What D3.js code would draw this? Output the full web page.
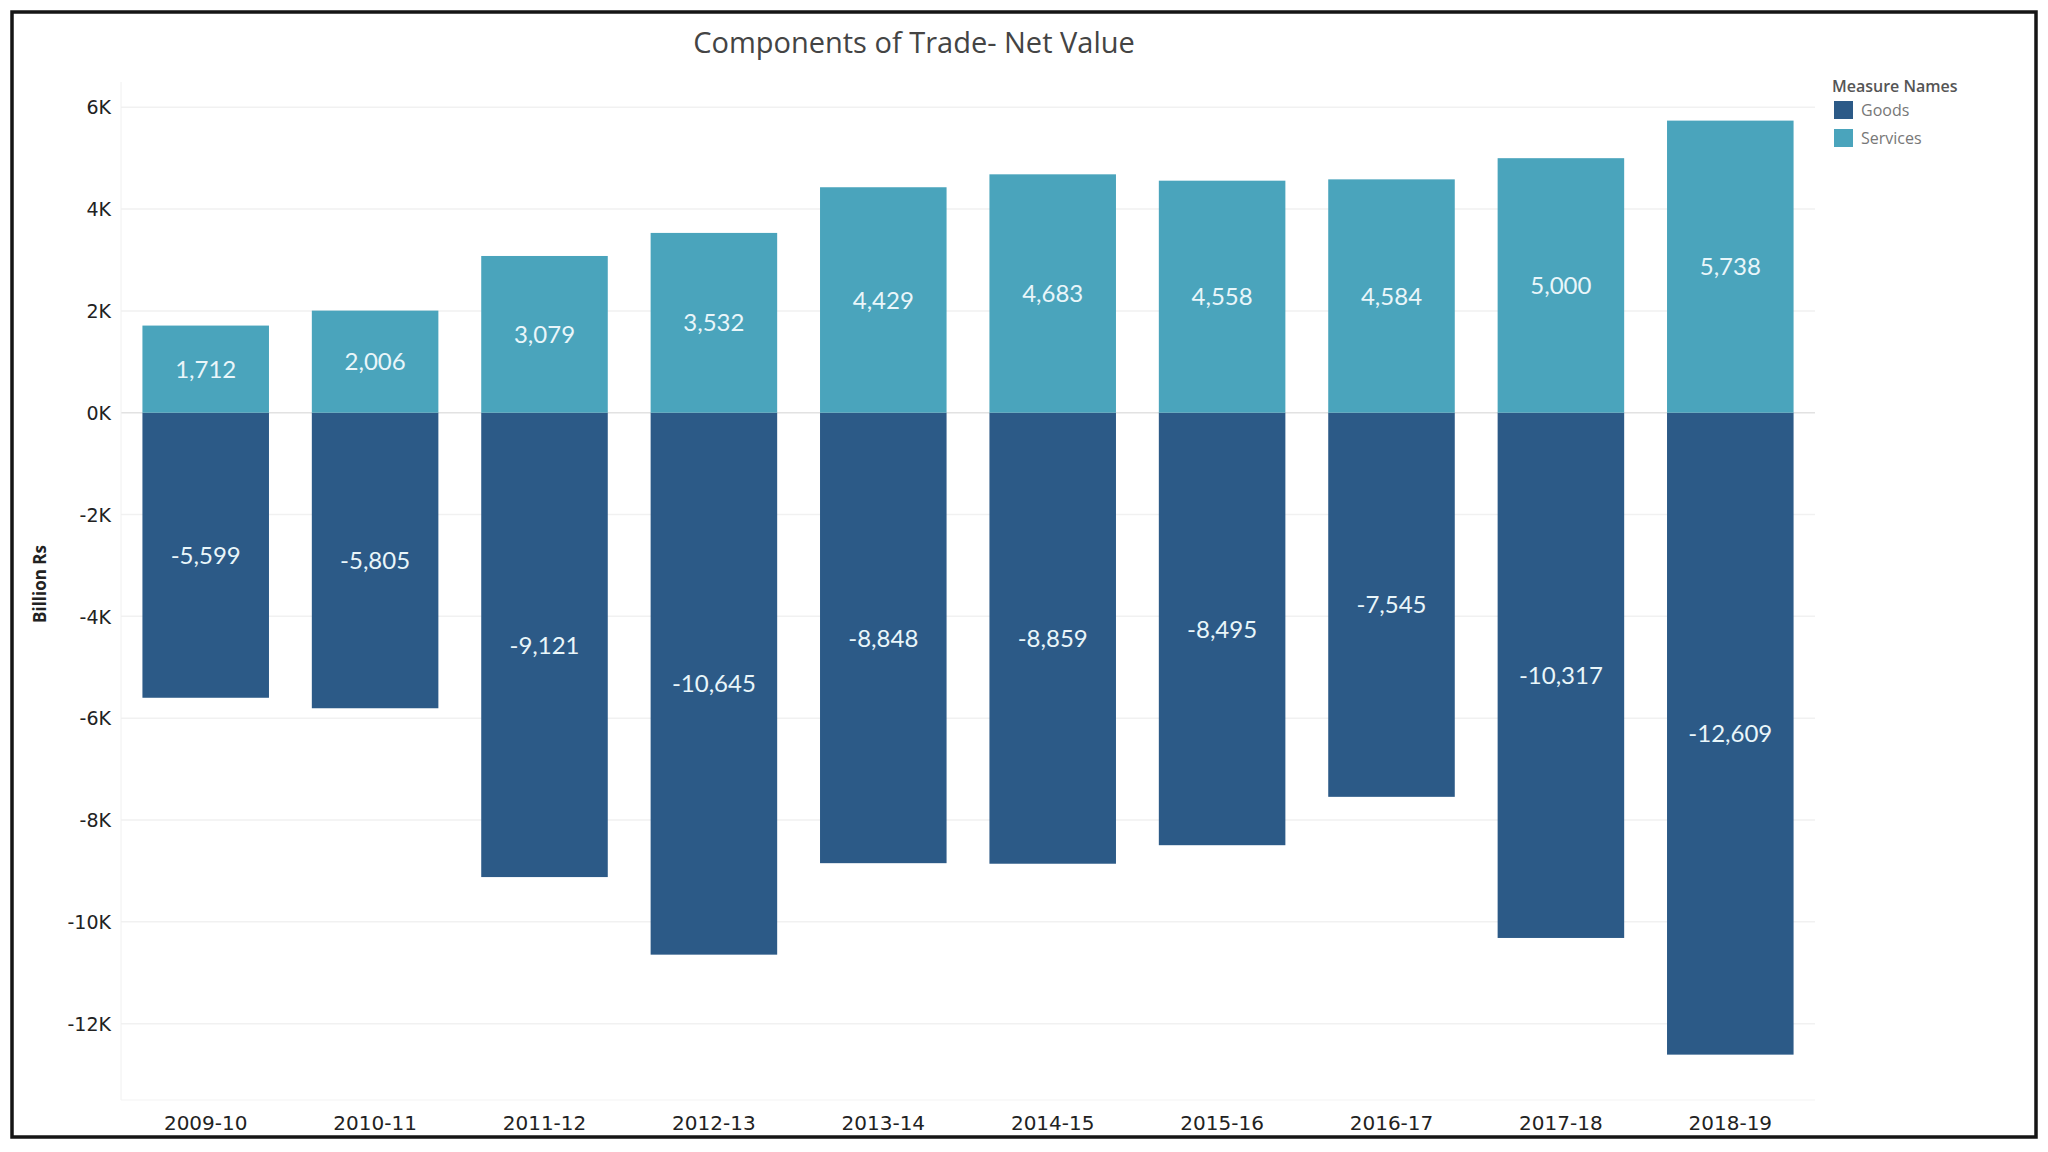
<!DOCTYPE html>
<html>
<head>
<meta charset="utf-8">
<script src="https://cdn.jsdelivr.net/npm/d3@7"></script>
<style>
  html, body { margin: 0; padding: 0; background: #fff; }
  svg { display: block; }
</style>
</head>
<body>
<svg id="chart"></svg>
<script>
// Components of Trade - Net Value (Billion Rs)
const years = ['2009-10', '2010-11', '2011-12', '2012-13', '2013-14', '2014-15', '2015-16', '2016-17', '2017-18', '2018-19'];
const goods = [-5599, -5805, -9121, -10645, -8848, -8859, -8495, -7545, -10317, -12609];
const services = [1712, 2006, 3079, 3532, 4429, 4683, 4558, 4584, 5000, 5738];
const yTicks = [-12000, -10000, -8000, -6000, -4000, -2000, 0, 2000, 4000, 6000];
const measures = ['Goods', 'Services'];

const COLORS = { Goods: '#2c5a87', Services: '#4aa4bc' };

const width = 2048, height = 1152;
const svg = d3.select('#chart').attr('width', width).attr('height', height);

// frame
svg.append('rect').attr('x', 12).attr('y', 12).attr('width', 2024).attr('height', 1125)
  .attr('fill', '#fff').attr('stroke', '#151515').attr('stroke-width', 3.5);

const plot = { left: 121, right: 1815, top: 92, bottom: 1100 };

const x = d3.scaleBand().domain(years).range([plot.left, plot.right])
  .paddingInner(0.253).paddingOuter(0.1265);
const y = d3.scaleLinear().domain([-13500, 6300]).range([plot.bottom, plot.top]);

// gridlines
const g = svg.append('g');
g.selectAll('line.grid').data(yTicks).join('line')
  .attr('x1', plot.left).attr('x2', plot.right)
  .attr('y1', d => y(d)).attr('y2', d => y(d))
  .attr('stroke', d => d === 0 ? '#e2e2e2' : '#f1f1f1').attr('stroke-width', 1.5);
g.append('line').attr('x1', plot.left).attr('x2', plot.left)
  .attr('y1', plot.top - 10).attr('y2', plot.bottom).attr('stroke', '#f0f0f0');
g.append('line').attr('x1', plot.left).attr('x2', plot.right)
  .attr('y1', plot.bottom).attr('y2', plot.bottom).attr('stroke', '#f3f3f3');

// bars
const rows = years.map((yr, i) => ({ yr, Goods: goods[i], Services: services[i] }));
measures.forEach(m => {
  g.selectAll(`rect.${m}`).data(rows).join('rect')
    .attr('class', m)
    .attr('x', d => x(d.yr)).attr('width', x.bandwidth())
    .attr('y', d => y(Math.max(0, d[m]))).attr('height', d => Math.abs(y(d[m]) - y(0)))
    .attr('fill', COLORS[m]);

  g.selectAll(`text.lbl-${m}`).data(rows).join('text')
    .attr('x', d => x(d.yr) + x.bandwidth() / 2)
    .attr('y', d => (y(d[m]) + y(0)) / 2).attr('dy', '0.36em')
    .attr('text-anchor', 'middle')
    .attr('font-family', 'Lato, "Open Sans", sans-serif').attr('font-size', '24px')
    .attr('fill', '#e9f6fa')
    .text(d => d3.format(',')(d[m]).replace('−', '-'));
});

// y axis
const yAxis = d3.axisLeft(y).tickValues(yTicks).tickSize(0).tickPadding(0)
  .tickFormat(d => (d / 1000) + 'K');
svg.append('g').attr('transform', 'translate(111,0)').call(yAxis)
  .call(s => s.select('.domain').remove())
  .selectAll('text')
  .attr('font-family', '"DejaVu Sans", sans-serif').attr('font-size', '19px')
  .attr('fill', '#222').attr('dy', '0.35em');

svg.append('text')
  .attr('transform', 'translate(46,584) rotate(-90)')
  .attr('text-anchor', 'middle')
  .attr('font-family', '"Open Sans", sans-serif').attr('font-size', '17px').attr('font-weight', 700)
  .attr('fill', '#222').text('Billion Rs');

// x axis
const xAxis = d3.axisBottom(x).tickSize(0).tickPadding(0);
svg.append('g').attr('transform', 'translate(0,1116)').call(xAxis)
  .call(s => s.select('.domain').remove())
  .selectAll('text')
  .attr('font-family', '"DejaVu Sans", sans-serif').attr('font-size', '20px')
  .attr('fill', '#222').attr('dy', '0.71em');

// title
svg.append('text').attr('x', 914).attr('y', 53).attr('text-anchor', 'middle')
  .attr('font-family', '"Open Sans", sans-serif').attr('font-size', '29px')
  .attr('fill', '#444').text('Components of Trade- Net Value');

// legend
const leg = svg.append('g').attr('transform', 'translate(1832,0)');
leg.append('text').attr('x', 0).attr('y', 92)
  .attr('font-family', '"Open Sans", sans-serif').attr('font-size', '16px').attr('font-weight', 600)
  .attr('fill', '#555').text('Measure Names');
measures.forEach((m, i) => {
  leg.append('rect').attr('x', 2).attr('y', 101 + i * 28).attr('width', 19).attr('height', 18)
    .attr('fill', COLORS[m]);
  leg.append('text').attr('x', 29).attr('y', 110 + i * 28).attr('dy', '0.35em')
    .attr('font-family', '"Open Sans", sans-serif').attr('font-size', '16px')
    .attr('fill', '#777').text(m);
});
</script>
</body>
</html>
